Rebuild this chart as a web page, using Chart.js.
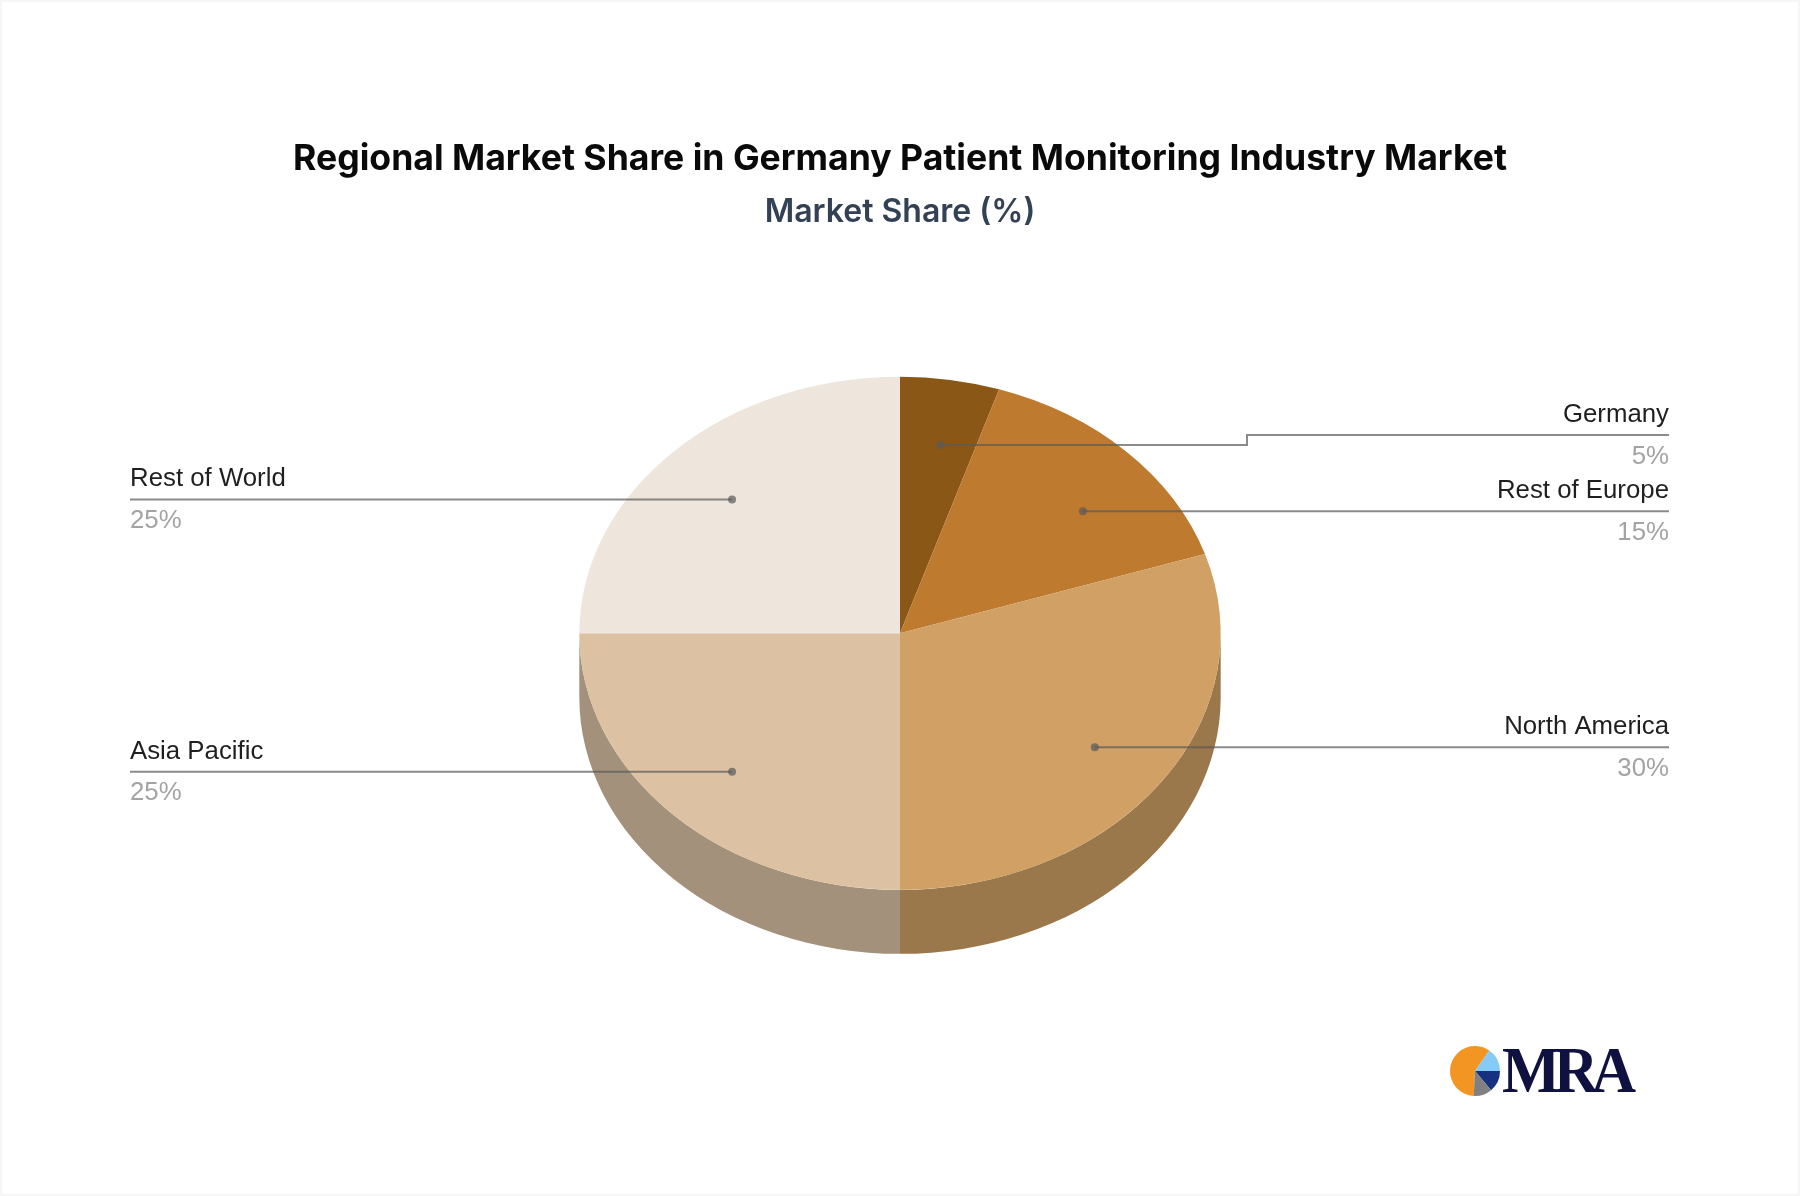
<!DOCTYPE html>
<html>
<head>
<meta charset="utf-8">
<style>
html,body{margin:0;padding:0;background:#fff;}
canvas{display:block;}
</style>
<script src="https://cdn.jsdelivr.net/npm/chart.js@4"></script>
</head>
<body>
<canvas id="c" width="1800" height="1196" style="width:1800px;height:1196px"></canvas>
<script>
const categories = ['Germany','Rest of Europe','North America','Asia Pacific','Rest of World'];
const shares = [5,15,30,25,25];
const topColors = ['#8B5716','#BE7B2F','#D0A064','#DCC2A3','#EEE6DD'];
const wallColors = ['#684110','#8E5C23','#9B784B','#A3917B','#B2ACA6'];
const titleText = 'Regional Market Share in Germany Patient Monitoring Industry Market';
const subtitleText = 'Market Share (%)';

const SQUASH = 0.8, DEPTH = 64, DOT_RATIO = 0.745;
const LEFT_X = 130, RIGHT_X = 1669;
const ELBOW = {Germany:{x:1247, y:435}};
const ANCHOR_SHIFT = {'Germany':[3,0.5],'Rest of Europe':[14,13],'North America':[1.5,1.5],'Asia Pacific':[1,3.3],'Rest of World':[1,1.3]};
const LINE = 'rgba(90,90,90,0.7)';

const pie3d = {
  id:'pie3d',
  beforeDatasetsDraw(chart){
    const ctx = chart.ctx, arcs = chart.getDatasetMeta(0).data;
    const {x:cx,y:cy,outerRadius:r} = arcs[0].getProps(['x','y','outerRadius'],true);
    ctx.save();
    arcs.forEach((a,i)=>{
      const s = Math.max(a.startAngle,0), e = Math.min(a.endAngle,Math.PI);
      if(e<=s) return;
      ctx.beginPath();
      ctx.ellipse(cx,cy,r,r*SQUASH,0,s,e);
      ctx.ellipse(cx,cy+DEPTH,r,r*SQUASH,0,e,s,true);
      ctx.closePath();
      ctx.fillStyle = wallColors[i];
      ctx.fill();
    });
    ctx.restore();
    ctx.save();
    ctx.translate(0,cy); ctx.scale(1,SQUASH); ctx.translate(0,-cy);
  },
  afterDatasetsDraw(chart){
    const ctx = chart.ctx, arcs = chart.getDatasetMeta(0).data;
    ctx.restore();
    arcs.forEach((a,i)=>{
      const mid = (a.startAngle+a.endAngle)/2;
      const name = categories[i];
      const shift = ANCHOR_SHIFT[name]||[0,0];
      const dx = a.x + Math.cos(mid)*a.outerRadius*DOT_RATIO + shift[0];
      const dy = a.y + Math.sin(mid)*a.outerRadius*DOT_RATIO*SQUASH + shift[1];
      const right = Math.cos(mid)>0;
      const endX = right?RIGHT_X:LEFT_X;
      const elbow = ELBOW[name];
      const lineY = elbow?elbow.y:dy;
      ctx.save();
      ctx.strokeStyle = LINE; ctx.lineWidth = 2;
      ctx.beginPath(); ctx.moveTo(dx,dy);
      if(elbow){ctx.lineTo(elbow.x,dy);ctx.lineTo(elbow.x,elbow.y);}
      ctx.lineTo(endX,lineY); ctx.stroke();
      ctx.fillStyle = LINE;
      ctx.beginPath(); ctx.arc(dx,dy,4,0,Math.PI*2); ctx.fill();
      ctx.textAlign = right?'right':'left';
      ctx.textBaseline = 'alphabetic';
      ctx.font = '25.8px "Liberation Sans"';
      ctx.fillStyle = '#1f1f1f';
      ctx.fillText(name,endX,lineY-13);
      ctx.fillStyle = '#a3a3a3';
      ctx.fillText(shares[i]+'%',endX,lineY+28.5);
      ctx.restore();
    });
  },
  afterDraw(chart){
    const ctx = chart.ctx;
    ctx.save();
    ctx.strokeStyle = '#f6f6f6'; ctx.lineWidth = 2;
    ctx.strokeRect(1,1,1798,1194);
    const lx=1475, ly=1071, lr=25, deg=Math.PI/180;
    [['#F39522',-90+183,-90+395],['#85CBF5',-90+35,0],['#16317F',0,50],['#808080',50,93]].forEach(([c,s,e])=>{
      ctx.beginPath(); ctx.moveTo(lx,ly); ctx.arc(lx,ly,lr,s*deg,e*deg); ctx.closePath();
      ctx.fillStyle=c; ctx.fill();
    });
    ctx.fillStyle='#0F1240';
    ctx.font='bold 65px "Liberation Serif"';
    ctx.textAlign='left'; ctx.textBaseline='alphabetic';
    ctx.letterSpacing='-7px';
    ctx.translate(1502,1092); ctx.scale(0.95,1);
    ctx.fillText('MRA',0,0);
    ctx.restore();
  }
};

new Chart(document.getElementById('c'),{
  type:'pie',
  data:{labels:categories,datasets:[{data:shares,backgroundColor:topColors,borderWidth:0,hoverOffset:0}]},
  plugins:[pie3d],
  options:{
    responsive:false,
    animation:false,
    devicePixelRatio:1,
    layout:{padding:{left:0,right:0,top:0,bottom:242}},
    plugins:{
      legend:{display:false},
      tooltip:{enabled:false},
      title:{display:true,text:titleText,color:'#0a0a0a',align:'center',
        font:{family:'Inter',size:35.6,weight:'bold',lineHeight:1.2},
        padding:{top:138,bottom:12.7}},
      subtitle:{display:true,text:subtitleText,color:'#334155',align:'center',
        font:{family:'Inter',size:32,weight:'600',lineHeight:1.2},
        padding:{top:0,bottom:80.8}}
    }
  }
});
</script>
</body>
</html>
